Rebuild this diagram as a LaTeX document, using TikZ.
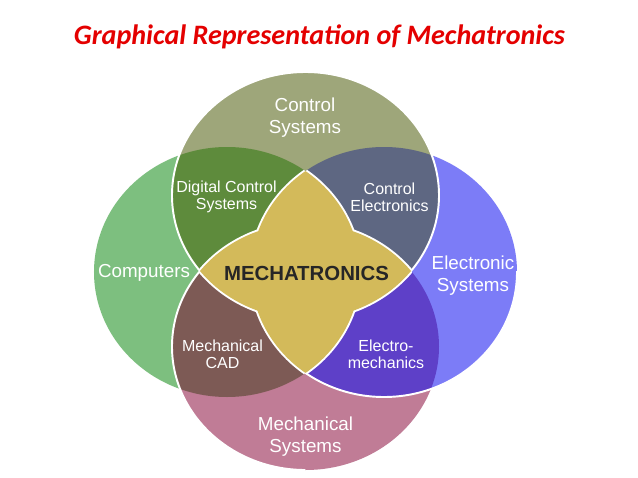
\documentclass[tikz,border=0pt]{standalone}
\usepackage{fontspec}
\setmainfont{Liberation Sans}
\newfontfamily\titlefont{Carlito}
\definecolor{cComp}{RGB}{125,191,127}
\definecolor{cCtrl}{RGB}{158,166,122}
\definecolor{cElec}{RGB}{124,124,247}
\definecolor{cMech}{RGB}{192,124,150}
\definecolor{cDig}{RGB}{94,139,60}
\definecolor{cCE}{RGB}{94,103,130}
\definecolor{cEM}{RGB}{94,64,200}
\definecolor{cCAD}{RGB}{125,90,85}
\definecolor{cStar}{RGB}{211,186,90}
\definecolor{cTitle}{RGB}{228,0,0}
\definecolor{cDark}{RGB}{38,38,38}
\def\pComp{(227,272) ellipse [x radius=26.6mm, y radius=25.0mm]}
\def\pElec{(384,272) ellipse [x radius=26.6mm, y radius=25.0mm]}
\def\pCtrl{(305.5,195.4) ellipse [x radius=26.7mm, y radius=24.68mm]}
\def\pMech{(305.5,346.6) ellipse [x radius=26.7mm, y radius=24.68mm]}
\begin{document}
\begin{tikzpicture}[x=0.2mm,y=-0.2mm,
  lbl/.style={text=white, align=center, font=\fontsize{10.7}{12.8}\selectfont, inner sep=0pt},
  ilbl/.style={text=white, align=center, font=\fontsize{9.1}{9.6}\selectfont, inner sep=0pt},
  wline/.style={draw=white, line width=1.1pt},
  sline/.style={draw=white, line width=2.2pt}]
\useasboundingbox (0,0) rectangle (638,478);
\fill[white] (0,0) rectangle (638,478);
% base ellipses
\fill[cComp] \pComp;
\fill[cMech] \pMech;
\fill[cElec] \pElec;
\fill[cCtrl] \pCtrl;
% lenses
\begin{scope}\clip \pComp; \fill[cDig] \pCtrl; \fill[cCAD] \pMech; \end{scope}
\begin{scope}\clip \pElec; \fill[cCE] \pCtrl; \fill[cEM] \pMech; \end{scope}
% white borders
\draw[wline] \pCtrl;
\begin{scope}\clip (0,0) rectangle (305.5,478); \draw[wline] \pMech; \end{scope}
\begin{scope}\clip (0,271) rectangle (638,478); \draw[wline] \pElec; \end{scope}
% central star outline
\begin{scope}\clip \pComp; \draw[sline] \pElec; \end{scope}
\begin{scope}\clip \pElec; \draw[sline] \pComp; \end{scope}
\begin{scope}\clip \pCtrl; \draw[sline] \pMech; \end{scope}
\begin{scope}\clip \pMech; \draw[sline] \pCtrl; \end{scope}
% central star fill
\begin{scope}\clip \pComp; \fill[cStar] \pElec; \end{scope}
\begin{scope}\clip \pCtrl; \fill[cStar] \pMech; \end{scope}
% title
\node (title) at (319.5,37) {\titlefont\bfseries\itshape\fontsize{16}{19}\selectfont\color{cTitle}Graphical Representation of Mechatronics};
% labels
\node[lbl] (ctrl) at (305,117.5) {Control\\Systems};
\node[lbl] (comp) at (144,273) {Computers};
\node[lbl] (elec) at (473,275.5) {Electronic\\Systems};
\node[lbl] (mech) at (305.5,436.5) {Mechanical\\Systems};
\node[ilbl] (dig) at (226.5,197) {Digital Control\\Systems};
\node[ilbl] (ce) at (389.5,197) {Control\\Electronics};
\node[ilbl] (cad) at (222.5,354) {Mechanical\\CAD};
\node[ilbl] (em) at (386,354) {Electro-\\mechanics};
\node[font=\bfseries\fontsize{11.6}{14}\selectfont, text=cDark, inner sep=0pt] (mt) at (306.5,273) {MECHATRONICS};
\end{tikzpicture}
\end{document}
